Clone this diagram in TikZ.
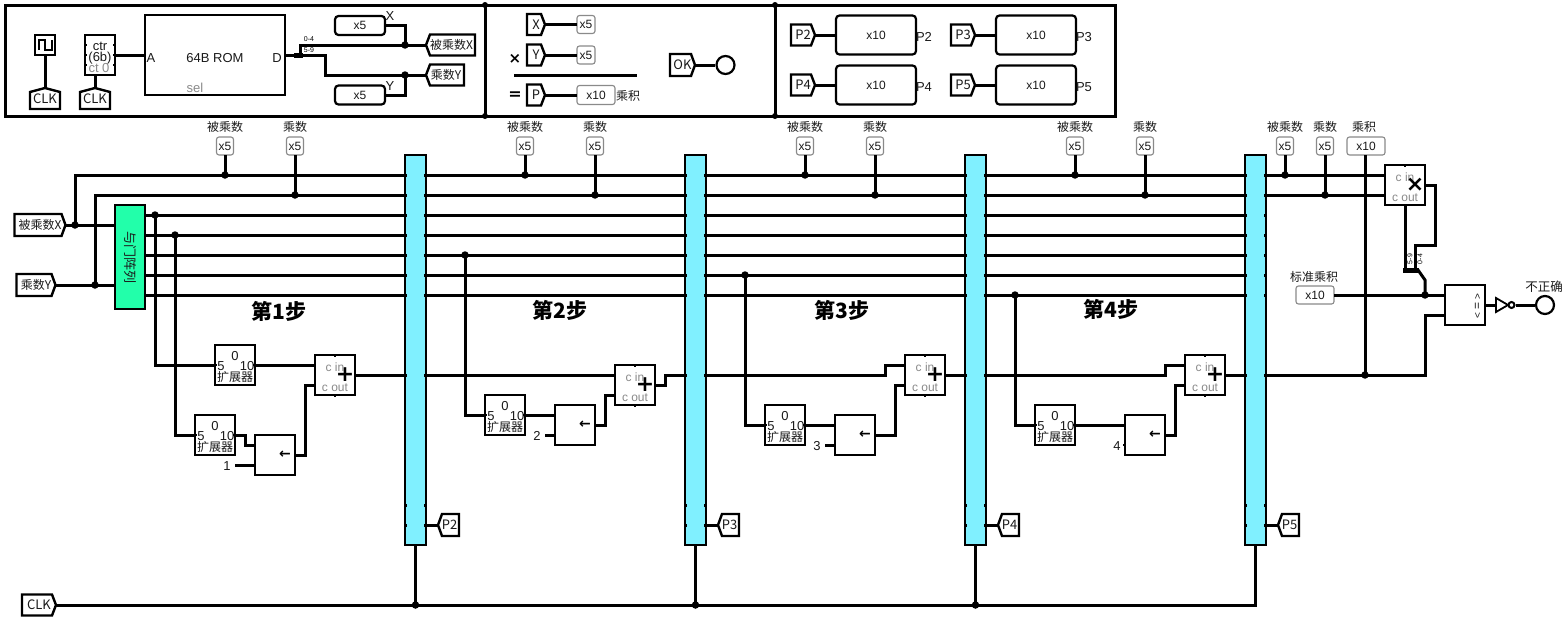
\documentclass[tikz,border=0pt]{standalone}
\usepackage{fontspec}
\setmainfont{Liberation Sans}
\newfontfamily\cjk{Noto Sans CJK SC}
\newfontfamily\djv{DejaVu Sans}
\definecolor{busfill}{HTML}{80F0FF}
\definecolor{gatefill}{HTML}{22FFAA}
\definecolor{pale}{HTML}{8A8A8A}
\definecolor{ink}{HTML}{1A1A1A}
\newcommand{\fs}[1]{\fontsize{#1}{#1}\selectfont}
\tikzset{
  wire/.style={line width=3pt,line join=miter},
  box/.style={draw=black,fill=white,line width=2.6pt,inner sep=0pt,outer sep=0pt,rectangle},
  greyreg/.style={draw=pale,fill=white,line width=1.1pt,rounded corners=2.5pt,inner sep=0pt,outer sep=0pt,font=\fs{12},text=ink},
  blackreg/.style={draw=black,fill=white,line width=2.2pt,rounded corners=3.5pt,inner sep=0pt,outer sep=0pt,font=\fs{12},text=ink},
  lab/.style={inner sep=0pt,outer sep=0pt,font=\fs{12},text=ink},
  cjklab/.style={inner sep=0pt,outer sep=0pt,font=\cjk\fs{12},text=ink},
  faint/.style={inner sep=0pt,outer sep=0pt,font=\fs{12},text=pale},
  steplab/.style={inner sep=0pt,outer sep=0pt,font=\cjk\bfseries\fs{21},text=black},
  pintext/.style={inner sep=0pt,outer sep=0pt,font=\cjk\fs{12},text=ink},
  pinoutline/.style={draw=black,fill=white,line width=2.4pt,line join=miter},
  junction/.style={circle,fill=black,inner sep=0pt,minimum size=7.5pt},
  ringlamp/.style={circle,draw=black,fill=white,line width=2.2pt,inner sep=0pt,minimum size=18pt},
  tinylab/.style={inner sep=0pt,outer sep=0pt,font=\fs{7},text=black},
  porttick/.style={line width=2pt}
}
% pins: name, cx, cy, w, h, text
\newcommand{\pinL}[6]{%
  \draw[pinoutline] (#2+#4/2,#3-#5/2) -- (#2-#4/2+4,#3-#5/2) -- (#2-#4/2,#3) -- (#2-#4/2+4,#3+#5/2) -- (#2+#4/2,#3+#5/2) -- cycle;
  \node[pintext,minimum width=#4 pt,minimum height=#5 pt] (#1) at (#2,#3) {\hspace{2pt}#6};}
\newcommand{\pinR}[6]{%
  \draw[pinoutline] (#2-#4/2,#3-#5/2) -- (#2+#4/2-4,#3-#5/2) -- (#2+#4/2,#3) -- (#2+#4/2-4,#3+#5/2) -- (#2-#4/2,#3+#5/2) -- cycle;
  \node[pintext,minimum width=#4 pt,minimum height=#5 pt] (#1) at (#2,#3) {#6\hspace{2pt}};}
\newcommand{\pinU}[6]{%
  \draw[pinoutline] (#2-#4/2,#3-#5/2+3) -- (#2,#3-#5/2-1) -- (#2+#4/2,#3-#5/2+3) -- (#2+#4/2,#3+#5/2) -- (#2-#4/2,#3+#5/2) -- cycle;
  \node[pintext,minimum width=#4 pt,minimum height=#5 pt] (#1) at (#2,#3) {#6};}
% extender: name, cx, cy
\newcommand{\extbox}[3]{%
  \node[box,minimum width=40pt,minimum height=40pt] (#1) at (#2,#3) {};
  \node[lab,font=\fs{13}] (#1-z) at (#2,#3-9) {0};
  \node[lab,font=\fs{13}] (#1-i) at (#2-14,#3+1) {5};
  \node[lab,font=\fs{13}] (#1-o) at (#2+12,#3+1) {10};
  \node[cjklab] (#1-t) at (#2,#3+11.5) {扩展器};
  \draw[porttick] (#2-20,#3) -- ++(2,0) (#2+20,#3) -- ++(-2,0);}
% adder / multiplier: name, cx, cy, symbol
\newcommand{\arith}[4]{%
  \node[box,minimum width=40pt,minimum height=40pt] (#1) at (#2,#3) {};
  \coordinate (#1-a) at (#2-20,#3-10);
  \coordinate (#1-b) at (#2-20,#3+10);
  \node[faint] (#1-ci) at (#2,#3-8) {c in};
  \node[faint] (#1-co) at (#2,#3+13) {c out};
  \node[inner sep=0pt,font=\djv\bfseries\fs{22},text=black] (#1-s) at (#2+10,#3) {#4};
  \draw[porttick] (#2,#3-20) -- ++(0,2) (#2,#3+20) -- ++(0,2);}
% shifter: name, cx, cy
\newcommand{\shifter}[3]{%
  \node[box,minimum width=40pt,minimum height=40pt] (#1) at (#2,#3) {};
  \coordinate (#1-a) at (#2-20,#3-10);
  \coordinate (#1-b) at (#2-20,#3+10);
  \node[inner sep=0pt,font=\djv\bfseries\fs{14},text=black] (#1-s) at (#2+10,#3) {←};}
\begin{document}
\begin{tikzpicture}[x=1pt,y=-1pt]
\useasboundingbox (0,0) rectangle (1568,621);
\fill[white] (0,0) rectangle (1568,621);

% ---- top frame ----
\node[draw=black,line width=3pt,minimum width=1110pt,minimum height=111pt,inner sep=0pt,outer sep=0pt] (frame) at (560,60.5) {};
\coordinate (divAt) at (485,5);\coordinate (divAb) at (485,116);
\coordinate (divBt) at (775,5);\coordinate (divBb) at (775,116);
\draw[wire] (divAt) -- (divAb);
\draw[wire] (divBt) -- (divBb);
\foreach \c in {divAt,divAb,divBt,divBb} \node[circle,fill=black,inner sep=0pt,minimum size=6pt] at (\c) {};

% left panel
\node[box,minimum width=20pt,minimum height=20pt] (clkgen) at (45,45) {};
\draw[line width=2pt] (38.5,50) -- (38.5,40) -- (45,40) -- (45,50) -- (51.5,50) -- (51.5,40);
\pinU{clkA}{45}{99}{30}{20}{\fs{13}CLK}
\pinU{clkB}{95}{99}{30}{20}{\fs{13}CLK}
\draw[wire] (clkgen.south) -- (clkA.north);
\node[box,minimum width=30pt,minimum height=40pt] (ctr) at (100,55) {};
\foreach \yy in {45,55,65}{\draw[porttick] (85,\yy) -- ++(2,0) (115,\yy) -- ++(-2,0);}
\node[lab,font=\fs{13}] (ctrA) at (100,46) {ctr};
\node[lab,font=\fs{13}] (ctrB) at (100,58) {(6b)};
\node[faint,font=\fs{13}] (ctrC) at (99,68) {ct 0};
\coordinate (ctrclk) at (95,75);
\draw[wire] (ctrclk) -- (clkB.north);
\node[box,minimum width=140pt,minimum height=80pt] (rom) at (215,55) {};
\node[lab,font=\fs{13}] (romA) at (151,58) {A};
\node[lab,font=\fs{13}] (romT) at (215,58) {64B ROM};
\node[lab,font=\fs{13}] (romD) at (277,58) {D};
\node[faint,font=\fs{13}] (romS) at (195,88) {sel};
\draw[wire] (ctr.east) -- (rom.west);
\pinL{pinX}{450.5}{45}{49}{21}{被乘数X}
\pinL{pinY}{445}{75}{38}{21}{乘数Y}
\node[blackreg,minimum width=50pt,minimum height=19pt] (regX) at (360,25.5) {x5};
\node[blackreg,minimum width=50pt,minimum height=19pt] (regY) at (360,95) {x5};
\node[lab,font=\fs{13}] (tX) at (390,16) {X};
\node[lab,font=\fs{13}] (tY) at (390,86) {Y};
\coordinate (spl) at (300,55);
\coordinate (jX) at (405,45);
\coordinate (jY) at (405,75);
\draw[wire] (rom.east) -- (spl);
\draw[line width=5pt] (294,55) -- (303,55);
\draw[wire] (spl) |- (jX) -- (pinX.west);
\draw[wire] (spl) -| (325,75) -- (jY) -- (pinY.west);
\draw[wire] (regX.east) -| (jX);
\draw[wire] (regY.east) -| (jY);
\node[junction] at (jX) {};
\node[junction] at (jY) {};
\node[tinylab] (s1) at (309,39) {0-4};
\node[tinylab] (s2) at (309,50) {5-9};

% middle panel
\pinR{pX}{536}{24.5}{18}{21}{\fs{13}X}
\pinR{pY}{536}{55}{18}{21}{\fs{13}Y}
\pinR{pP}{536}{95}{18}{21}{\fs{13}P}
\node[greyreg,minimum width=18pt,minimum height=18pt] (gX) at (586,24.5) {x5};
\node[greyreg,minimum width=18pt,minimum height=18pt] (gY) at (586,55) {x5};
\node[greyreg,minimum width=38pt,minimum height=19pt] (gP) at (596,95) {x10};
\draw[wire] (pX.east) -- (gX.west);
\draw[wire] (pY.east) -- (gY.west);
\draw[wire] (pP.east) -- (gP.west);
\node[inner sep=0pt,font=\djv\bfseries\fs{15}] (mulS) at (515,59) {×};
\node[inner sep=0pt,font=\djv\bfseries\fs{16}] (eqS) at (515,96) {=};
\coordinate (ruleA) at (514,75);\coordinate (ruleB) at (637,75);
\draw[wire] (ruleA) -- (ruleB);
\node[cjklab] (tP) at (628,96) {乘积};
\pinR{pOK}{682.5}{65}{25}{22}{\fs{13}OK}
\node[ringlamp] (okLamp) at (725.5,65) {};
\draw[wire] (pOK.east) -- (okLamp.west);

% right panel
\pinR{p2}{803}{35}{24}{21}{\fs{13}P2}
\pinR{p3}{963}{35}{24}{21}{\fs{13}P3}
\pinR{p4}{803}{85}{24}{21}{\fs{13}P4}
\pinR{p5}{963}{85}{24}{21}{\fs{13}P5}
\node[blackreg,minimum width=80pt,minimum height=39pt] (r2) at (876,35) {x10};
\node[blackreg,minimum width=80pt,minimum height=39pt] (r3) at (1036,35) {x10};
\node[blackreg,minimum width=80pt,minimum height=39pt] (r4) at (876,85) {x10};
\node[blackreg,minimum width=80pt,minimum height=39pt] (r5) at (1036,85) {x10};
\draw[wire] (p2.east) -- (r2.west);
\draw[wire] (p3.east) -- (r3.west);
\draw[wire] (p4.east) -- (r4.west);
\draw[wire] (p5.east) -- (r5.west);
\node[lab,font=\fs{13}] (l2) at (924,37) {P2};
\node[lab,font=\fs{13}] (l3) at (1084,37) {P3};
\node[lab,font=\fs{13}] (l4) at (924,87) {P4};
\node[lab,font=\fs{13}] (l5) at (1084,87) {P5};

% ---- bus wires ----
\foreach \n/\bx in {1/405,2/685,3/965,4/1245}{
  \foreach \yy in {175,195,215,235,255,275,295,375}{
    \coordinate (b\n l\yy) at (\bx,\yy);
    \coordinate (b\n r\yy) at (\bx+21,\yy);
  }
}
\foreach \a/\b in {1/2,2/3,3/4}{
  \foreach \yy in {175,195,215,235,255,275,295}{
    \draw[wire] (b\a r\yy) -- (b\b l\yy);
  }
}
% inputs
\pinR{inX}{40}{225}{51}{22}{被乘数X}
\pinR{inY}{36}{285}{39}{22}{乘数Y}
\node[box,fill=gatefill,minimum width=30pt,minimum height=104pt] (andarr) at (130,257) {};
\node[cjklab,rotate=-90,font=\cjk\fs{13}] (andT) at (130,257) {与门阵列};
\coordinate (jInX) at (75,225);\coordinate (jInY) at (95,285);
\coordinate (andX) at (115,225);\coordinate (andY) at (115,285);
\draw[wire] (inX.east) -- (jInX) -- (andX);
\draw[wire] (inY.east) -- (jInY) -- (andY);
\draw[wire] (jInX) |- (b1l175);
\draw[wire] (jInY) |- (b1l195);
\foreach \yy in {215,235,255,275,295}{
  \coordinate (and\yy) at (145,\yy);
  \draw[wire] (and\yy) -- (b1l\yy);
}

% step 1
\extbox{e1a}{235}{365}
\extbox{e1b}{215}{435}
\shifter{sh1}{275}{455}
\arith{ad1}{335}{375}{+}
\draw[wire] (155,215) |- (e1a.west);
\draw[wire] (175,235) |- (e1b.west);
\draw[wire] (e1a.east) -- (ad1-a);
\draw[wire] (e1b.east) -- (245,435) -- (245,445) -- (sh1-a);
\node[lab,font=\fs{13}] (n1) at (227,466) {1};
\coordinate (c1) at (235,465);
\draw[wire] (c1) -- (sh1-b);
\draw[wire] (sh1.east) -- (305,455) -- (305,385) -- (ad1-b);
\draw[wire] (ad1.east) -- (b1l375);

% step 2
\extbox{e2}{505}{415}
\shifter{sh2}{575}{425}
\arith{ad2}{635}{385}{+}
\draw[wire] (465,255) |- (e2.west);
\draw[wire] (e2.east) -- (sh2-a);
\node[lab,font=\fs{13}] (n2) at (537,436) {2};
\coordinate (c2) at (545,435);
\draw[wire] (c2) -- (sh2-b);
\draw[wire] (sh2.east) -- (605,425) -- (605,395) -- (ad2-b);
\draw[wire] (b1r375) -- (ad2-a);
\draw[wire] (ad2.east) -- (665,385) -- (665,375) -- (b2l375);

% step 3
\extbox{e3}{785}{425}
\shifter{sh3}{855}{435}
\arith{ad3}{925}{375}{+}
\draw[wire] (745,275) |- (e3.west);
\draw[wire] (e3.east) -- (sh3-a);
\node[lab,font=\fs{13}] (n3) at (817,446) {3};
\coordinate (c3) at (825,445);
\draw[wire] (c3) -- (sh3-b);
\draw[wire] (sh3.east) -- (895,435) -- (895,385) -- (ad3-b);
\draw[wire] (b2r375) -- (885,375) -- (885,365) -- (ad3-a);
\draw[wire] (ad3.east) -- (b3l375);

% step 4
\extbox{e4}{1055}{425}
\shifter{sh4}{1145}{435}
\arith{ad4}{1205}{375}{+}
\draw[wire] (1015,295) |- (e4.west);
\draw[wire] (e4.east) -- (sh4-a);
\node[lab,font=\fs{13}] (n4) at (1117,446) {4};
\draw[porttick] (sh4-b) -- ++(-2,0);
\draw[wire] (sh4.east) -- (1175,435) -- (1175,385) -- (ad4-b);
\draw[wire] (b3r375) -- (1165,375) -- (1165,365) -- (ad4-a);
\draw[wire] (ad4.east) -- (b4l375);

% pipeline registers
\foreach \n/\cx/\pn in {1/415.5/P2,2/695.5/P3,3/975.5/P4,4/1255.5/P5}{
  \node[box,fill=busfill,minimum width=21pt,minimum height=390pt] (bus\n) at (\cx,350) {};
  \foreach \yy in {175,195,215,235,255,275,295,375,505,525}{
    \draw[line width=3pt] (\cx-10.5,\yy) -- (\cx-8.5,\yy) (\cx+8.5,\yy) -- (\cx+10.5,\yy);
  }
  \pinL{out\n}{\cx+33}{525}{21}{22}{\fs{13}\pn}
  \coordinate (busp\n) at (\cx+10.5,525);
  \draw[wire] (busp\n) -- (out\n.west);
}
% clock
\pinR{clkM}{39}{605}{34}{21}{\fs{13}CLK}
\coordinate (cJ1) at (415.5,605);\coordinate (cJ2) at (695.5,605);\coordinate (cJ3) at (975.5,605);\coordinate (cE) at (1255.5,605);
\draw[wire] (clkM.east) -- (cE) -- (bus4.south);
\draw[wire] (bus1.south) -- (cJ1);
\draw[wire] (bus2.south) -- (cJ2);
\draw[wire] (bus3.south) -- (cJ3);
\foreach \c in {cJ1,cJ2,cJ3} \node[junction] at (\c) {};

% probes above each step
\foreach \k/\xa/\xb/\ln in {a/225/295/1,b/525/595/2,c/805/875/3,d/1075/1145/4}{
  \node[cjklab] (pl1\k) at (\xa,127) {被乘数};
  \node[cjklab] (pl2\k) at (\xb,127) {乘数};
  \node[greyreg,minimum width=17pt,minimum height=18pt] (pr1\k) at (\xa,146) {x5};
  \node[greyreg,minimum width=17pt,minimum height=18pt] (pr2\k) at (\xb,146) {x5};
  \coordinate (pj1\k) at (\xa,175);
  \coordinate (pj2\k) at (\xb,195);
  \draw[wire] (pr1\k.south) -- (pj1\k);
  \draw[wire] (pr2\k.south) -- (pj2\k);
  \node[junction] at (pj1\k) {};
  \node[junction] at (pj2\k) {};
}
\node[steplab] (st1) at (279,311) {第1步};
\node[steplab] (st2) at (560,310) {第2步};
\node[steplab] (st3) at (842,310) {第3步};
\node[steplab] (st4) at (1111,309) {第4步};
\foreach \p in {(155,215),(175,235),(465,255),(745,275),(1015,295),(75,225),(95,285)} \node[junction] at \p {};

% final check
\node[cjklab] (fl1) at (1285,127) {被乘数};
\node[cjklab] (fl2) at (1325,127) {乘数};
\node[cjklab] (fl3) at (1364,127) {乘积};
\node[greyreg,minimum width=17pt,minimum height=18pt] (fr1) at (1285,146) {x5};
\node[greyreg,minimum width=17pt,minimum height=18pt] (fr2) at (1325,146) {x5};
\node[greyreg,minimum width=38pt,minimum height=18pt] (fr3) at (1366,146) {x10};
\arith{mul}{1405}{185}{×}
\coordinate (fj1) at (1285,175);\coordinate (fj2) at (1325,195);\coordinate (fj3) at (1365,375);\coordinate (ft3) at (1365,155);
\draw[wire] (fr1.south) -- (fj1);
\draw[wire] (fr2.south) -- (fj2);
\draw[wire] (ft3) -- (fj3);
\draw[wire] (b4r175) -- (mul-a);
\draw[wire] (b4r195) -- (mul-b);
\node[cjklab] (fl4) at (1314,277) {标准乘积};
\node[greyreg,minimum width=38pt,minimum height=18pt] (stdP) at (1315,295) {x10};
\node[box,minimum width=40pt,minimum height=40pt] (cmp) at (1465,305) {};
\coordinate (cmpA) at (1445,295);\coordinate (cmpB) at (1445,315);
\coordinate (fj4) at (1425,295);
\draw[wire] (stdP.east) -- (cmpA);
\draw[wire] (b4r375) -- (1425,375) -- (1425,315) -- (cmpB);
\draw[wire] (mul.east) -- (1435,185) -- (1435,245) -- (1415,245) -- (1415,270);
\draw[wire] (mul.south) -- (1405,270) -- (1419,270);
\draw[line width=5pt] (1403,270) -- (1419,270);
\draw[wire] (1418,270) -- (1425,280) -- (fj4);
\node[tinylab,rotate=90] (s3) at (1410,259) {5-9};
\node[tinylab,rotate=90] (s4) at (1420,259) {0-4};
\foreach \c in {fj1,fj2,fj3,fj4} \node[junction] at (\c) {};
\node[lab,rotate=90,font=\fs{10}] (cg) at (1478,297) {>};
\node[lab,rotate=90,font=\fs{12}] (ce) at (1478,306) {=};
\node[lab,rotate=90,font=\fs{10}] (cl) at (1478,316) {<};
\coordinate (notA) at (1496,305);
\draw[wire] (cmp.east) -- (notA);
\draw[draw=black,fill=white,line width=1.8pt] (notA) ++(0,-7) -- ++(0,14) -- ++(12,-7) -- cycle;
\node[circle,draw=black,fill=white,line width=2pt,inner sep=0pt,minimum size=6pt] (bub) at (1511.5,305) {};
\node[ringlamp] (bad) at (1545,305) {};
\draw[wire] (bub.east) -- (bad.west);
\node[cjklab,font=\cjk\fs{12.5}] (badT) at (1544,287) {不正确};
\end{tikzpicture}
\end{document}
